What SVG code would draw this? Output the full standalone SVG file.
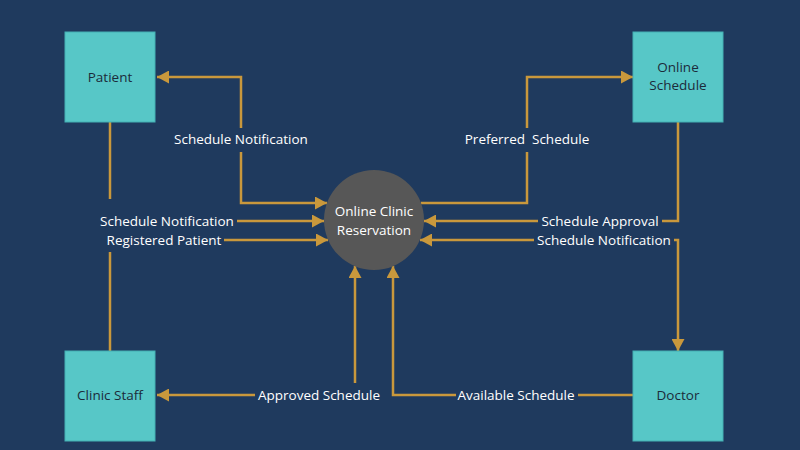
<svg xmlns="http://www.w3.org/2000/svg" width="800" height="450" viewBox="0 0 800 450">
  <defs>
    <marker id="arr" markerUnits="userSpaceOnUse" markerWidth="13" markerHeight="13" refX="12" refY="6.5" orient="auto-start-reverse" viewBox="0 0 13 13">
      <path d="M0,0 L12,6.5 L0,13 Z" fill="#C9983C"/>
    </marker>
    <style>
      .box { fill: #57C7C7; stroke: #45B0B3; stroke-width: 1; }
      .boxtxt { font-family: "Open Sans", "Noto Sans", sans-serif; font-size: 13.5px; fill: #1C2B3A; text-anchor: middle; }
      .lbl { font-family: "Open Sans", "Noto Sans", sans-serif; font-size: 13.5px; fill: #FFFFFF; text-anchor: middle; }
      .ln { fill: none; stroke: #C9983C; stroke-width: 2.5; }
      .proc { fill: #575757; }
      .proctxt { font-family: "Open Sans", "Noto Sans", sans-serif; font-size: 13.5px; fill: #FFFFFF; text-anchor: middle; }
    </style>
  </defs>
  <rect width="800" height="450" fill="#1F3A5E"/>

  <g id="connectors">
    <!-- Patient <-> Reservation -->
    <path class="ln" d="M241,128 V77 H157" marker-end="url(#arr)"/>
    <path class="ln" d="M241,152 V203 H327" marker-end="url(#arr)"/>
    <!-- Reservation -> Online Schedule -->
    <path class="ln" d="M421,203 H527 V152"/>
    <path class="ln" d="M527,128 V77 H633" marker-end="url(#arr)"/>
    <!-- Online Schedule -> Reservation (Schedule Approval) -->
    <path class="ln" d="M678,122 V221 H662"/>
    <path class="ln" d="M538,221 H424" marker-end="url(#arr)"/>
    <!-- Reservation <-> Doctor (Schedule Notification) -->
    <path class="ln" d="M534,240 H420" marker-end="url(#arr)"/>
    <path class="ln" d="M674,240 H678 V351" marker-end="url(#arr)"/>
    <!-- Left side inbound -->
    <path class="ln" d="M237,221 H324" marker-end="url(#arr)"/>
    <path class="ln" d="M224,240 H328" marker-end="url(#arr)"/>
    <!-- Patient - Clinic Staff vertical -->
    <path class="ln" d="M110,122 V199"/>
    <path class="ln" d="M110,252 V351"/>
    <!-- Approved Schedule -->
    <path class="ln" d="M355,383 V266" marker-end="url(#arr)"/>
    <path class="ln" d="M255,395 H157" marker-end="url(#arr)"/>
    <!-- Available Schedule -->
    <path class="ln" d="M633,395 H578"/>
    <path class="ln" d="M456,395 H393 V266" marker-end="url(#arr)"/>

    <text class="lbl" x="241" y="144">Schedule Notification</text>
    <text class="lbl" x="527" y="144" xml:space="preserve">Preferred  Schedule</text>
    <text class="lbl" x="600" y="226">Schedule Approval</text>
    <text class="lbl" x="604" y="245">Schedule Notification</text>
    <text class="lbl" x="167" y="226">Schedule Notification</text>
    <text class="lbl" x="164" y="245">Registered Patient</text>
    <text class="lbl" x="319" y="400">Approved Schedule</text>
    <text class="lbl" x="516" y="400">Available Schedule</text>
  </g>

  <g id="patient">
    <rect class="box" x="65" y="32" width="90" height="90"/>
    <text class="boxtxt" x="110" y="82">Patient</text>
  </g>
  <g id="online-schedule">
    <rect class="box" x="633" y="32" width="90" height="90"/>
    <text class="boxtxt" x="678" y="72">Online</text>
    <text class="boxtxt" x="678" y="90">Schedule</text>
  </g>
  <g id="clinic-staff">
    <rect class="box" x="65" y="351" width="90" height="90"/>
    <text class="boxtxt" x="110" y="400">Clinic Staff</text>
  </g>
  <g id="doctor">
    <rect class="box" x="633" y="351" width="90" height="90"/>
    <text class="boxtxt" x="678" y="400">Doctor</text>
  </g>
  <g id="reservation">
    <circle class="proc" cx="374" cy="220" r="50"/>
    <text class="proctxt" x="374" y="216">Online Clinic</text>
    <text class="proctxt" x="374" y="235">Reservation</text>
  </g>
</svg>
